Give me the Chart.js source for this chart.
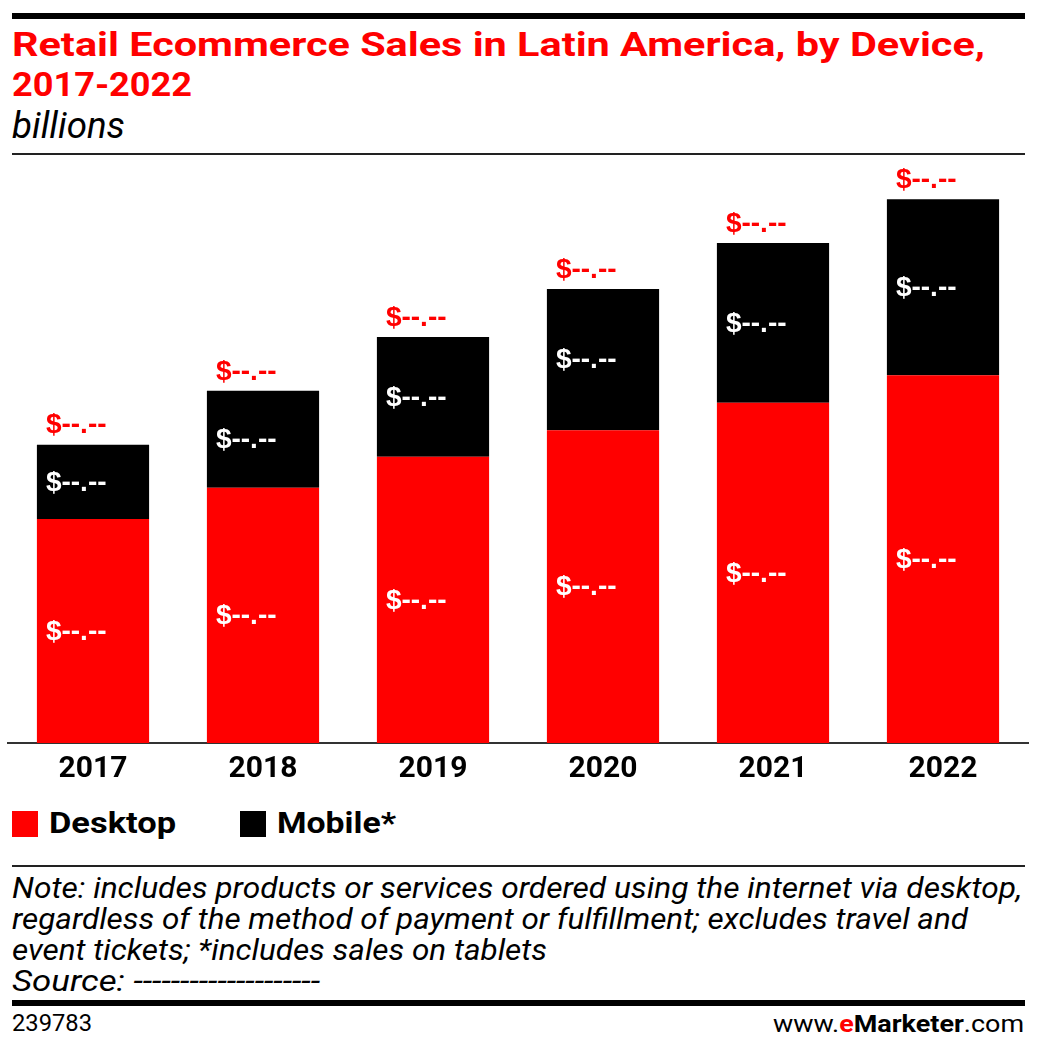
<!DOCTYPE html>
<html>
<head>
<meta charset="utf-8">
<script src="https://cdn.jsdelivr.net/npm/chart.js@4.4.1/dist/chart.umd.min.js"></script>
<style>
  body { margin: 0; width: 1038px; height: 1052px; background: #fff; position: relative; overflow: hidden; font-family: Roboto, "Liberation Sans", sans-serif; color: #000; }
  .abs { position: absolute; white-space: nowrap; transform-origin: left top; }
  .rule { position: absolute; left: 12px; width: 1013px; background: #000; }
  .title { color: #ff0000; font-weight: bold; font-size: 34px; line-height: 34px; }
  .note { font-style: italic; font-size: 29px; line-height: 29px; }
  .leg { font-weight: bold; font-size: 30px; line-height: 30px; }
  .box { position: absolute; width: 26px; height: 26px; }
  #chartWrap { position: absolute; left: 0; top: 156px; width: 1038px; height: 639px; }
</style>
</head>
<body>
<div class="rule" style="top:13px;height:6px"></div>
<div class="abs title" data-w="973" style="left:12px;top:27px">Retail Ecommerce Sales in Latin America, by Device,</div>
<div class="abs title" data-w="180" style="left:12px;top:67px">2017-2022</div>
<div class="abs" data-w="113" style="left:12px;top:108px;font-style:italic;font-size:36px;line-height:36px">billions</div>
<div class="rule" style="top:153px;height:2px;background:#222"></div>

<div id="chartWrap"><canvas id="chart" width="1038" height="639"></canvas></div>

<div class="box" style="left:12px;top:811px;background:#ff0000"></div>
<div class="abs leg" data-w="127" style="left:49px;top:808px">Desktop</div>
<div class="box" style="left:240px;top:811px;background:#000"></div>
<div class="abs leg" data-w="119" style="left:277px;top:808px">Mobile*</div>

<div class="rule" style="top:865px;height:2px;background:#222"></div>
<div class="abs note" data-w="1010" style="left:12px;top:874px">Note: includes products or services ordered using the internet via desktop,</div>
<div class="abs note" data-w="956" style="left:12px;top:905px">regardless of the method of payment or fulfillment; excludes travel and</div>
<div class="abs note" data-w="535" style="left:12px;top:936px">event tickets; *includes sales on tablets</div>
<div class="abs note" data-w="308" style="left:12px;top:967px">Source: --------------------</div>
<div class="rule" style="top:1000px;height:6px"></div>
<div class="abs" data-w="80" style="left:12px;top:1012px;font-size:23px;line-height:23px">239783</div>
<div class="abs" data-w="251" id="brand" style="left:773px;top:1012px;font-size:24px;line-height:24px">www.<b style="color:#ff0000">e</b><b>Marketer</b>.com</div>

<script>
const years = ['2017', '2018', '2019', '2020', '2021', '2022'];
const desktop = [37.4, 42.6, 47.8, 52.2, 56.8, 61.4];
const mobile = [12.4, 16.2, 20.0, 23.6, 26.7, 29.4];
const desktopLabels = ['$--.--', '$--.--', '$--.--', '$--.--', '$--.--', '$--.--'];
const mobileLabels = ['$--.--', '$--.--', '$--.--', '$--.--', '$--.--', '$--.--'];
const totalLabels = ['$--.--', '$--.--', '$--.--', '$--.--', '$--.--', '$--.--'];

// stretch text lines to the widths seen in the reference
document.querySelectorAll('[data-w]').forEach(function (el) {
  const w = el.getBoundingClientRect().width;
  el.style.transform = 'scaleX(' + (parseFloat(el.dataset.w) / w) + ')';
});

const barLabels = {
  id: 'barLabels',
  afterDatasetsDraw(chart) {
    const c = chart.ctx;
    c.save();
    c.font = 'bold 28px "Liberation Sans"';
    c.textBaseline = 'middle';
    c.textAlign = 'left';
    const texts = [desktopLabels, mobileLabels];
    chart.data.datasets.forEach(function (ds, i) {
      chart.getDatasetMeta(i).data.forEach(function (bar, j) {
        c.fillStyle = '#fff';
        c.fillText(texts[i][j], bar.x - bar.width / 2 + 9, (bar.y + bar.base) / 2 + 1);
      });
    });
    chart.getDatasetMeta(1).data.forEach(function (bar, j) {
      c.fillStyle = '#ff0000';
      c.fillText(totalLabels[j], bar.x - bar.width / 2 + 9, bar.y - 19);
    });
    c.restore();
  }
};

new Chart(document.getElementById('chart'), {
  type: 'bar',
  data: {
    labels: years,
    datasets: [
      { label: 'Desktop', data: desktop, backgroundColor: '#ff0000' },
      { label: 'Mobile*', data: mobile, backgroundColor: '#000000' }
    ]
  },
  options: {
    responsive: false,
    animation: false,
    layout: { padding: { top: 18, left: 8, right: 10, bottom: 0 } },
    datasets: { bar: { barPercentage: 0.66, categoryPercentage: 1 } },
    plugins: { legend: { display: false }, tooltip: { enabled: false } },
    scales: {
      x: {
        stacked: true,
        grid: { display: false, drawTicks: false },
        border: { color: '#333', width: 2 },
        ticks: { color: '#000', padding: 8, font: { family: 'Roboto', size: 30, weight: 'bold' } }
      },
      y: { stacked: true, display: false, min: 0, max: 95 }
    }
  },
  plugins: [barLabels]
});
</script>
</body>
</html>
